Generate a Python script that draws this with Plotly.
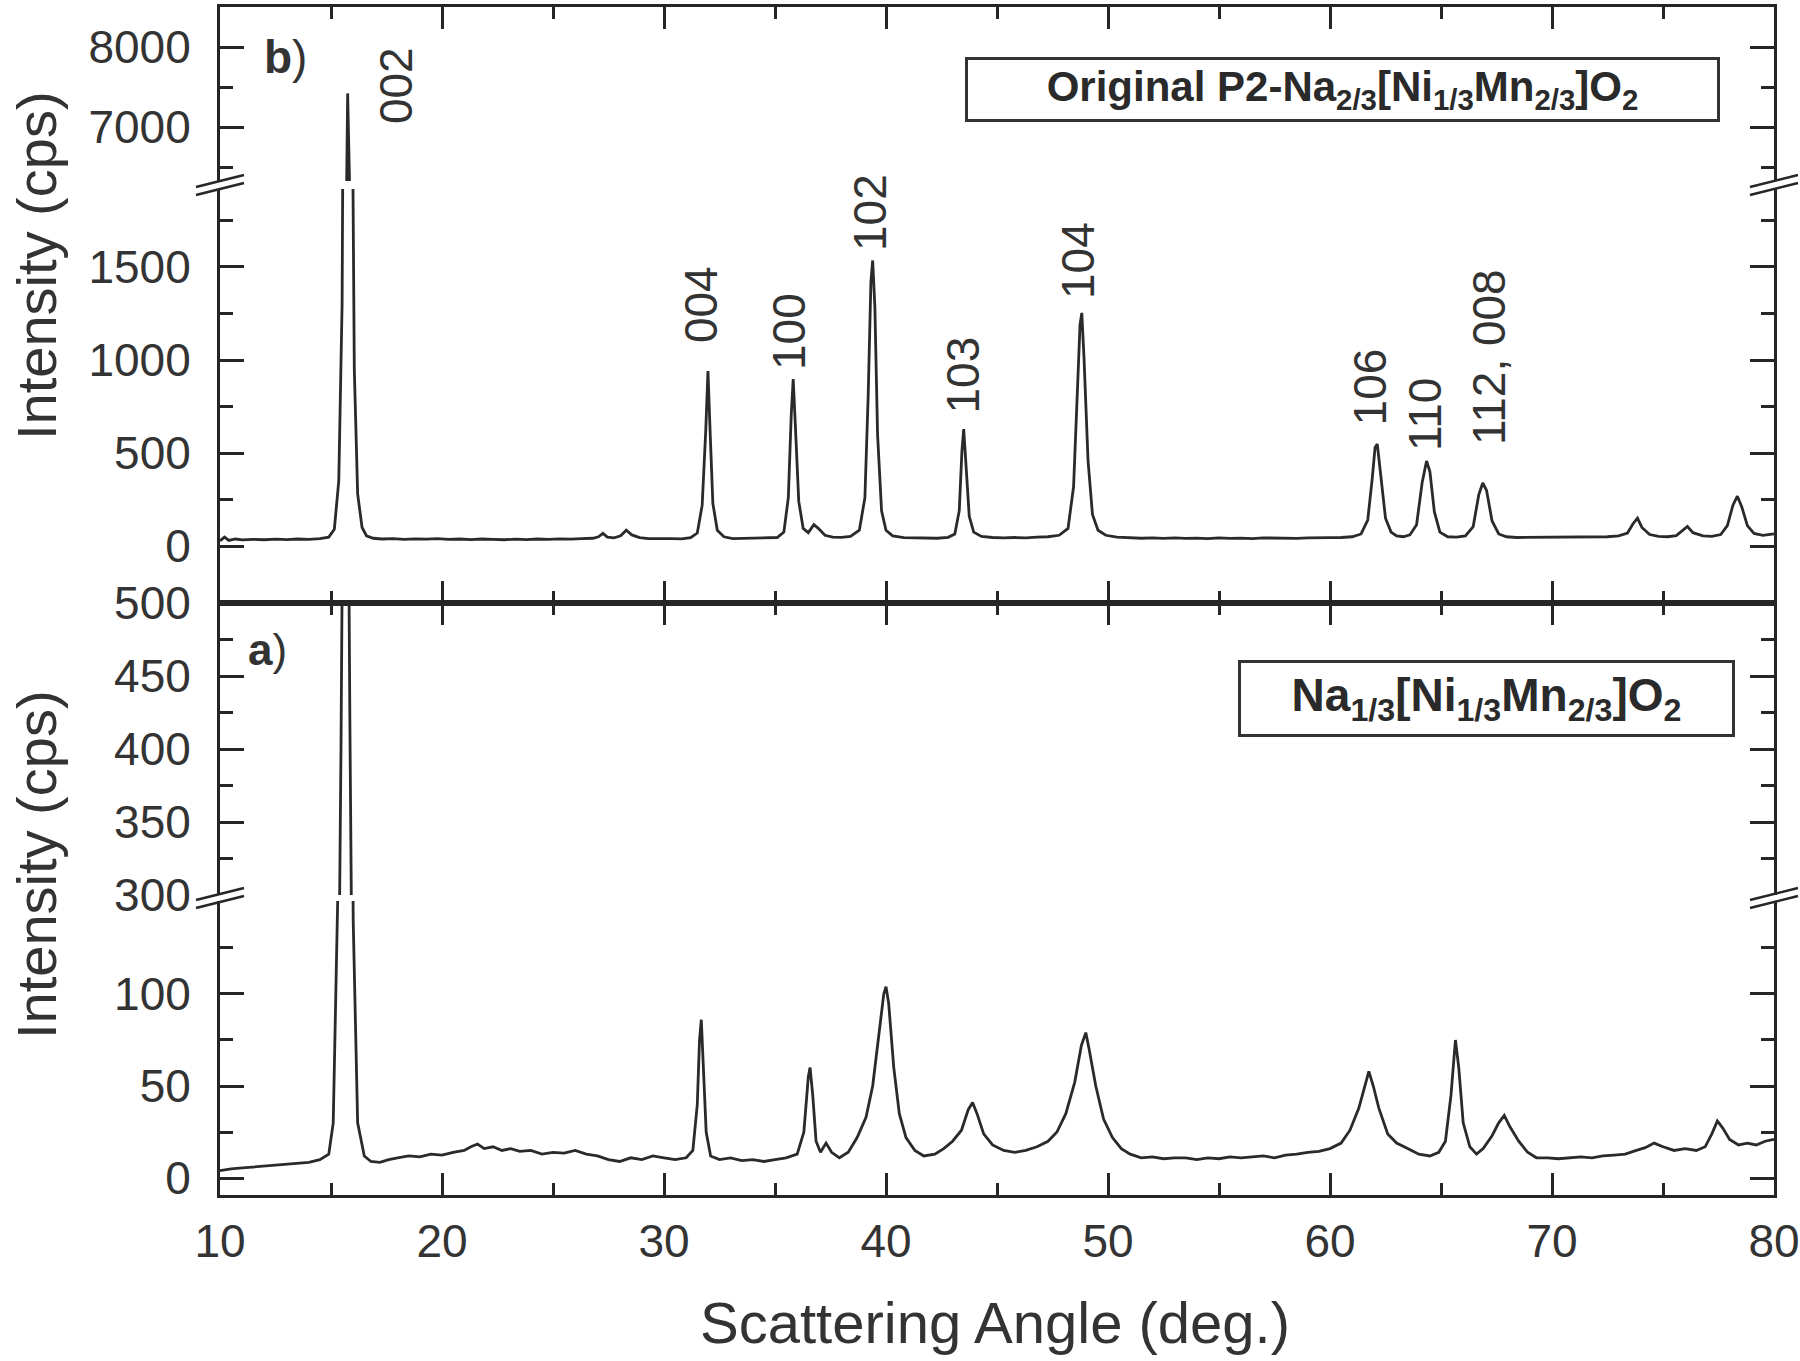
import plotly.graph_objects as go

# ---------------- data ----------------
# b) Original P2-Na2/3[Ni1/3Mn2/3]O2
top_x = [10.0, 10.2, 10.4, 10.7, 11.0, 11.5, 12.0, 12.5, 13.0, 13.5, 14.0, 14.5, 14.9, 15.15, 15.35, 15.5,
         15.62, 15.75, 15.85, 15.95, 16.05, 16.2, 16.4, 16.6, 16.9, 17.3, 17.8, 18.3, 18.8, 19.3, 19.8, 20.3,
         20.8, 21.3, 21.8, 22.3, 22.8, 23.3, 23.8, 24.3, 24.8, 25.3, 25.8, 26.3, 26.8, 27.05, 27.25, 27.45,
         27.75, 28.05, 28.3, 28.55, 28.9, 29.3, 29.8, 30.3, 30.8, 31.2, 31.5, 31.72, 31.88, 31.98, 32.07, 32.2,
         32.4, 32.7, 33.1, 33.6, 34.1, 34.6, 35.1, 35.4, 35.6, 35.73, 35.82, 35.92, 36.07, 36.27, 36.5, 36.75,
         36.95, 37.25, 37.6, 38.0, 38.4, 38.8, 39.05, 39.2, 39.32, 39.4, 39.5, 39.62, 39.8, 40.0, 40.3, 40.8,
         41.3, 41.8, 42.3, 42.8, 43.1, 43.3, 43.42, 43.5, 43.6, 43.75, 43.95, 44.3, 44.8, 45.3, 45.8, 46.3,
         46.8, 47.3, 47.8, 48.2, 48.45, 48.62, 48.74, 48.82, 48.92, 49.1, 49.3, 49.55, 49.9, 50.4, 51.0, 51.5,
         52.0, 52.5, 53.0, 53.5, 54.0, 54.5, 55.0, 55.5, 56.0, 56.5, 57.0, 57.5, 58.0, 58.5, 59.0, 59.5,
         60.0, 60.5, 61.0, 61.4, 61.7, 61.9, 62.03, 62.13, 62.28, 62.5, 62.75, 63.0, 63.3, 63.6, 63.9, 64.15,
         64.35, 64.5, 64.7, 64.95, 65.3, 65.7, 66.1, 66.45, 66.7, 66.88, 67.05, 67.3, 67.6, 67.95, 68.4, 69.0,
         69.5, 70.0, 70.5, 71.0, 71.5, 72.0, 72.5, 73.0, 73.4, 73.65, 73.85, 74.05, 74.4, 74.8, 75.2, 75.6,
         75.9, 76.1, 76.35, 76.8, 77.2, 77.6, 77.9, 78.15, 78.35, 78.55, 78.8, 79.1, 79.5, 79.8, 80.0]
top_y = [28, 48, 30, 38, 33, 36, 34, 37, 35, 38, 36, 40, 48, 90, 350, 1300,
         4200, 7420, 6100, 2600, 950, 280, 100, 55, 42, 38, 40, 36, 39, 37, 40, 36,
         38, 35, 38, 36, 34, 37, 35, 38, 36, 39, 37, 40, 42, 50, 68, 48,
         44, 55, 85, 60, 45, 40, 38, 40, 39, 45, 70, 220, 620, 940, 640, 230,
         85, 50, 40, 42, 40, 43, 46, 75, 260, 700, 898, 640, 240, 95, 72, 115,
         95, 58, 48, 47, 52, 85, 260, 820, 1420, 1535, 1280, 600, 190, 85, 55, 45,
         43, 44, 42, 47, 65, 190, 510, 628, 450, 160, 75, 52, 46, 44, 46, 44,
         48, 50, 58, 95, 320, 820, 1190, 1253, 1010, 460, 170, 85, 58, 48, 45, 42,
         44, 41, 44, 41, 43, 40, 44, 41, 43, 40, 44, 42, 43, 41, 44, 43,
         45, 46, 50, 65, 140, 360, 530, 548, 390, 150, 75, 55, 50, 60, 115, 340,
         457, 400, 185, 75, 50, 48, 55, 105, 275, 339, 300, 135, 65, 50, 46, 47,
         45, 47, 46, 48, 47, 49, 50, 55, 70, 120, 150, 100, 62, 52, 50, 56,
         85, 105, 72, 55, 52, 62, 110, 220, 268, 210, 110, 68, 58, 62, 66]

# a) Na1/3[Ni1/3Mn2/3]O2
bot_x = [10.0, 10.5, 11.0, 11.5, 12.0, 12.5, 13.0, 13.5, 14.0, 14.5, 14.9, 15.1, 15.3, 15.45, 15.55, 15.65,
         15.75, 15.85, 16.0, 16.2, 16.5, 16.8, 17.2, 17.6, 18.0, 18.5, 19.0, 19.5, 20.0, 20.5, 21.0, 21.3,
         21.6, 21.9, 22.3, 22.7, 23.1, 23.5, 24.0, 24.5, 25.0, 25.5, 26.0, 26.5, 27.0, 27.5, 28.0, 28.5,
         29.0, 29.5, 30.0, 30.5, 31.0, 31.3, 31.5, 31.6, 31.68, 31.78, 31.9, 32.1, 32.5, 33.0, 33.5, 34.0,
         34.5, 35.0, 35.5, 36.0, 36.3, 36.5, 36.58, 36.7, 36.85, 37.05, 37.3, 37.55, 37.9, 38.3, 38.7, 39.1,
         39.4, 39.7, 39.9, 40.0, 40.12, 40.35, 40.6, 40.9, 41.3, 41.7, 42.2, 42.6, 43.0, 43.4, 43.7, 43.9,
         44.1, 44.4, 44.8, 45.3, 45.8, 46.3, 46.8, 47.3, 47.7, 48.1, 48.5, 48.8, 49.0, 49.15, 49.45, 49.8,
         50.2, 50.6, 51.0, 51.5, 52.0, 52.5, 53.0, 53.5, 54.0, 54.5, 55.0, 55.5, 56.0, 56.5, 57.0, 57.5,
         58.0, 58.5, 59.0, 59.5, 60.0, 60.5, 60.9, 61.3, 61.6, 61.75, 61.95, 62.2, 62.6, 63.0, 63.5, 64.0,
         64.5, 64.9, 65.2, 65.45, 65.65, 65.8, 66.0, 66.3, 66.6, 66.9, 67.3, 67.6, 67.85, 68.1, 68.5, 68.9,
         69.3, 69.8, 70.3, 70.8, 71.3, 71.8, 72.3, 72.8, 73.3, 73.8, 74.2, 74.6, 75.0, 75.5, 76.0, 76.5,
         76.9, 77.2, 77.45, 77.7, 78.0, 78.4, 78.8, 79.2, 79.6, 80.0]
bot_y = [4, 5, 5.5, 6, 6.5, 7, 7.5, 8, 8.5, 10, 13, 30, 150, 400, 620, 720,
         650, 420, 140, 30, 12, 9, 8.5, 10, 11, 12, 11.5, 13, 12.5, 14, 15, 17,
         18.5, 16, 17, 15, 16, 14.5, 15, 13, 14, 13.5, 15, 13, 12, 10, 9, 11,
         10, 12, 11, 10, 11, 15, 40, 75, 86, 60, 25, 12, 10, 11, 9.5, 10,
         9, 10, 11, 13, 25, 55, 60, 45, 20, 14, 19, 14, 11, 14, 22, 33,
         50, 80, 100, 104, 95, 60, 35, 22, 15, 12, 13, 16, 20, 26, 37, 41,
         35, 24, 18, 15, 14, 15, 17, 20, 25, 35, 52, 72, 79, 70, 50, 32,
         22, 16, 13, 11, 11.5, 10.5, 11, 11, 10, 11, 10.5, 11.5, 11, 11.5, 12, 11,
         12.5, 13, 14, 14.5, 16, 19, 26, 38, 52, 58, 50, 38, 24, 19, 16, 13,
         12, 14, 20, 45, 75, 60, 30, 17, 13, 16, 23, 30, 34, 28, 20, 14,
         11, 11, 10.5, 11, 11.5, 11, 12, 12.5, 13, 15, 16.5, 19, 17, 15, 16, 15,
         17, 24, 31, 27, 21, 18, 19, 18, 20, 21]

x_tick_vals = [10, 20, 30, 40, 50, 60, 70, 80]
x_minor_vals = [15, 25, 35, 45, 55, 65, 75]
top_low_ticks = [0, 500, 1000, 1500]
top_low_minor = [250, 750, 1250, 1750]
top_up_ticks = [7000, 8000]
top_up_minor = [6500, 7500]
bot_low_ticks = [0, 50, 100]
bot_low_minor = [25, 75, 125]
bot_up_ticks = [300, 350, 400, 450, 500]
bot_up_minor = [325, 375, 425, 475]

peak_labels = ["002", "004", "100", "102", "103", "104", "106", "110", "112, 008"]
peak_label_x = [17.93, 31.67, 35.63, 39.28, 43.49, 48.65, 61.82, 64.28, 67.16]

# ---------------- layout helpers ----------------
W, H = 1800, 1361
L, R, T, B = 220, 26, 7, 166
PW, PH = W - L - R, H - T - B
INK = "#262626"
FONT = "Liberation Sans, Arial, Helvetica, sans-serif"


def px(x):
    return (x - L) / PW


def py(y):
    return (H - B - y) / PH


peak_label_ypx = [86, 305, 331, 213, 375, 261, 387, 415, 357]

fig = go.Figure()
line = dict(color="#2a2a2a", width=2.8)
fig.add_trace(go.Scatter(x=top_x, y=top_y, mode="lines", line=line, xaxis="x4", yaxis="y", showlegend=False))
fig.add_trace(go.Scatter(x=top_x, y=top_y, mode="lines", line=line, xaxis="x3", yaxis="y2", showlegend=False))
fig.add_trace(go.Scatter(x=bot_x, y=bot_y, mode="lines", line=line, xaxis="x2", yaxis="y3", showlegend=False))
fig.add_trace(go.Scatter(x=bot_x, y=bot_y, mode="lines", line=line, xaxis="x", yaxis="y4", showlegend=False))

common = dict(showline=True, linecolor=INK, linewidth=3, ticks="inside", tickcolor=INK,
              tickwidth=3, showgrid=False, zeroline=False, automargin=False)


def xax(anchor, side, labels):
    d = dict(common, range=[10, 80], tickmode="array", tickvals=x_tick_vals, ticklen=22,
             minor=dict(tickmode="array", tickvals=x_minor_vals, ticks="inside", ticklen=12,
                        tickcolor=INK, tickwidth=3),
             anchor=anchor, side=side, showticklabels=labels,
             tickfont=dict(family=FONT, size=46, color="#333333"))
    if labels:
        d["ticklabelstandoff"] = 4
    return d


def yax(dom, rng, ticks, minor, anchor):
    return dict(common, domain=dom, range=rng, tickmode="array", tickvals=ticks,
                ticktext=[str(t) for t in ticks], ticklen=24, mirror="ticks",
                minor=dict(tickmode="array", tickvals=minor, ticks="inside", ticklen=13,
                           tickcolor=INK, tickwidth=3),
                anchor=anchor, ticklabelstandoff=17,
                tickfont=dict(family=FONT, size=46, color="#333333"))


fig.update_layout(
    template="none",
    width=W, height=H, autosize=False,
    margin=dict(l=L, r=R, t=T, b=B, autoexpand=False),
    paper_bgcolor="white", plot_bgcolor="white",
    font=dict(family=FONT, color=INK),
    showlegend=False,
    xaxis=xax("y4", "bottom", True),
    xaxis2=dict(xax("y3", "top", False), matches="x"),
    xaxis3=dict(xax("y2", "bottom", False), matches="x"),
    xaxis4=dict(xax("y", "top", False), matches="x"),
    yaxis=yax([py(181), 1.0], [6325, 8500], top_up_ticks, top_up_minor, "x4"),
    yaxis2=yax([py(603), py(189)], [-306, 1919], top_low_ticks, top_low_minor, "x3"),
    yaxis3=yax([py(895), py(603)], [300, 500], bot_up_ticks, bot_up_minor, "x2"),
    yaxis4=yax([0, py(901)], [-9.2, 150.5], bot_low_ticks, bot_low_minor, "x"),
)

ann = []
# axis titles
ann.append(dict(text="Scattering Angle (deg.)", xref="paper", yref="paper", x=px(995), y=py(1322),
                xanchor="center", yanchor="middle", showarrow=False,
                font=dict(family=FONT, size=58, color="#333333")))
for yc in (266, 865):
    ann.append(dict(text="Intensity (cps)", xref="paper", yref="paper", x=px(36), y=py(yc),
                    xanchor="center", yanchor="middle", showarrow=False, textangle=-90,
                    font=dict(family=FONT, size=56, color="#333333")))
# panel letters
ann.append(dict(text="<b>b</b>)", xref="paper", yref="paper", x=px(262), y=py(57),
                xanchor="left", yanchor="middle", showarrow=False,
                font=dict(family=FONT, size=46, color="#333333")))
ann.append(dict(text="<b>a</b>)", xref="paper", yref="paper", x=px(246), y=py(649),
                xanchor="left", yanchor="middle", showarrow=False,
                font=dict(family=FONT, size=44, color="#333333")))
# peak labels
for lab, lx, ly in zip(peak_labels, peak_label_x, peak_label_ypx):
    ann.append(dict(text=lab, xref="x3", yref="paper", x=lx, y=py(ly), xanchor="center",
                    yanchor="middle", showarrow=False, textangle=-90,
                    font=dict(family=FONT, size=46, color="#333333")))
# legend boxes
ann.append(dict(text="<b>Original P2-Na<sub>2/3</sub>[Ni<sub>1/3</sub>Mn<sub>2/3</sub>]O<sub>2</sub></b>",
                xref="paper", yref="paper", x=px(1342.5), y=py(89.5), xanchor="center", yanchor="middle",
                showarrow=False, width=749, height=59, borderpad=0, bordercolor="#333333", borderwidth=3,
                align="center", font=dict(family=FONT, size=42, color="#2a2a2a")))
ann.append(dict(text="<b>Na<sub>1/3</sub>[Ni<sub>1/3</sub>Mn<sub>2/3</sub>]O<sub>2</sub></b>",
                xref="paper", yref="paper", x=px(1486.5), y=py(698.5), xanchor="center", yanchor="middle",
                showarrow=False, width=491, height=71, borderpad=0, bordercolor="#333333", borderwidth=3,
                align="center", font=dict(family=FONT, size=46, color="#2a2a2a")))
fig.update_layout(annotations=ann)

# axis-break marks
shapes = []
for bx in (L, W - R):
    for by in (185, 898):
        for off in (-4, 4):
            shapes.append(dict(type="line", xref="paper", yref="paper",
                               x0=px(bx - 24), y0=py(by + off + 6), x1=px(bx + 24), y1=py(by + off - 6),
                               line=dict(color=INK, width=2.5)))
fig.update_layout(shapes=shapes)

fig.write_html("out.html", config={"displayModeBar": False},
               post_script="document.body.style.margin='0';")
